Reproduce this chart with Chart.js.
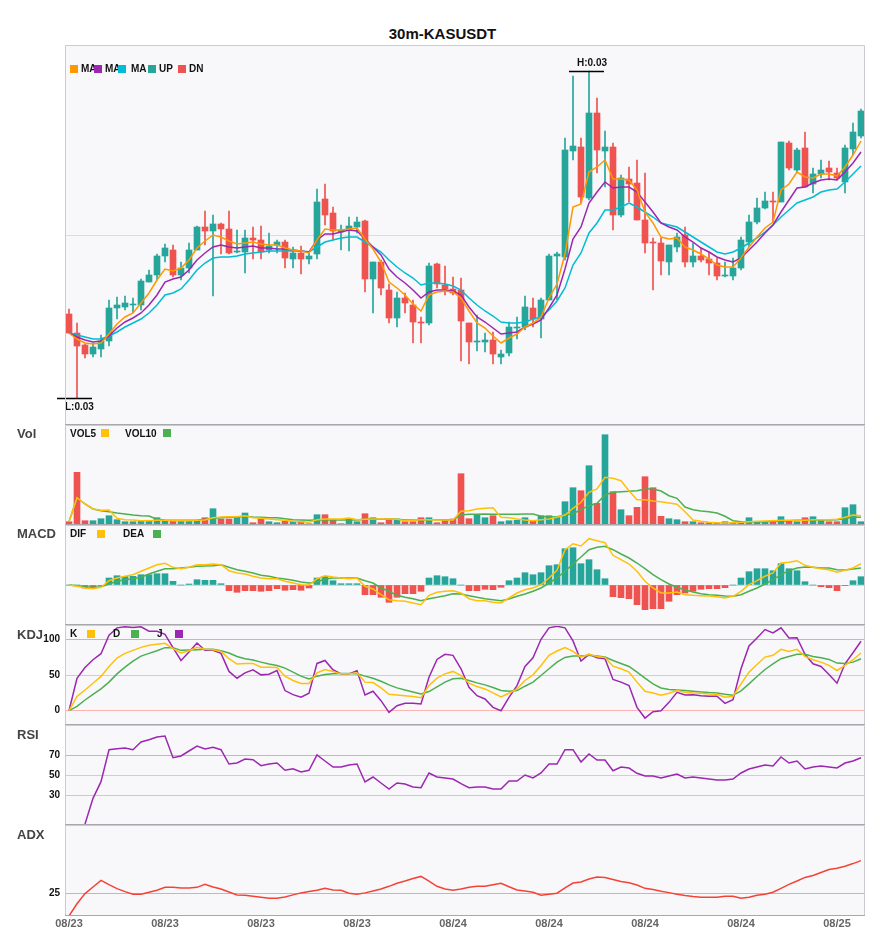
<!DOCTYPE html>
<html>
<head>
<meta charset="utf-8">
<title>30m-KASUSDT</title>
<script src="https://cdn.jsdelivr.net/npm/chart.js@4.4.1/dist/chart.umd.min.js"></script>
<style>
  body { margin: 0; background: #fff; width: 885px; height: 950px; position: relative; overflow: hidden;
         font-family: "Liberation Sans", Arial, sans-serif; }
  #title { position: absolute; left: 0; top: 26px; width: 885px; text-align: center;
           font-weight: bold; font-size: 15px; line-height: 16px; color: #111; }
  canvas { position: absolute; left: 0; }
</style>
</head>
<body>
<div id="title">30m-KASUSDT</div>
<canvas id="cMain" width="885" height="380" style="top:45px"></canvas>
<canvas id="cVol" width="885" height="100" style="top:425px"></canvas>
<canvas id="cMacd" width="885" height="100" style="top:525px"></canvas>
<canvas id="cKdj" width="885" height="100" style="top:625px"></canvas>
<canvas id="cRsi" width="885" height="100" style="top:725px"></canvas>
<canvas id="cAdx" width="885" height="116" style="top:825px"></canvas>
<script>
// prices in units of 0.00001 USDT, one entry per 30m bar (100 bars)
const opens = [
  2986, 2967, 2955, 2946, 2951, 2959, 2992, 2993, 2995, 2995,
  3018, 3025, 3044, 3050, 3025, 3032, 3050, 3073, 3069, 3076,
  3071, 3048, 3048, 3062, 3060, 3050, 3055, 3058, 3041, 3047,
  3041, 3046, 3101, 3087, 3068, 3070, 3073, 3079, 3021, 3038,
  3010, 2982, 3002, 2995, 2978, 2977, 3036, 3015, 3011, 3010,
  2977, 2958, 2958, 2960, 2943, 2947, 2972, 2973, 2992, 2981,
  3000, 3044, 3043, 3149, 3153, 3102, 3187, 3149, 3153, 3085,
  3121, 3117, 3080, 3058, 3057, 3038, 3053, 3065, 3038, 3044,
  3041, 3037, 3024, 3024, 3032, 3058, 3078, 3092, 3099, 3098,
  3157, 3130, 3152, 3116, 3126, 3132, 3127, 3118, 3151, 3164
];
const highs = [
  2991, 2977, 2956, 2957, 2965, 3000, 3003, 3004, 3002, 3021,
  3030, 3046, 3056, 3055, 3038, 3057, 3074, 3089, 3085, 3077,
  3089, 3070, 3070, 3073, 3074, 3067, 3060, 3060, 3053, 3054,
  3048, 3111, 3116, 3093, 3075, 3083, 3083, 3080, 3038, 3040,
  3016, 3008, 3007, 3000, 2983, 3037, 3037, 3034, 3023, 3022,
  2977, 2985, 2967, 2968, 2950, 2978, 2983, 3004, 3002, 3002,
  3046, 3048, 3162, 3224, 3162, 3229, 3202, 3169, 3157, 3125,
  3133, 3140, 3127, 3062, 3062, 3055, 3067, 3073, 3057, 3052,
  3048, 3042, 3038, 3042, 3063, 3085, 3102, 3108, 3108, 3158,
  3159, 3152, 3168, 3132, 3140, 3139, 3132, 3155, 3177, 3191
];
const lows = [
  2967, 2902, 2942, 2943, 2943, 2954, 2981, 2990, 2987, 2990,
  3018, 3020, 3038, 3023, 3020, 3027, 3050, 3055, 3004, 3046,
  3046, 3047, 3027, 3041, 3041, 3047, 3047, 3032, 3032, 3026,
  3036, 3041, 3075, 3060, 3050, 3049, 3067, 3008, 2987, 3005,
  2977, 2973, 2987, 2957, 2957, 2975, 3012, 3005, 3005, 2939,
  2936, 2949, 2948, 2936, 2936, 2944, 2961, 2970, 2973, 2962,
  3000, 3000, 3040, 3140, 3097, 3100, 3127, 3113, 3070, 3083,
  3098, 3080, 3047, 3010, 3025, 3025, 3048, 3033, 3033, 3038,
  3025, 3020, 3023, 3020, 3030, 3053, 3076, 3091, 3078, 3098,
  3130, 3128, 3113, 3107, 3122, 3120, 3120, 3107, 3145, 3162
];
const closes = [
  2967, 2954, 2946, 2953, 2959, 2992, 2995, 2997, 2996, 3019,
  3025, 3044, 3052, 3025, 3032, 3050, 3073, 3069, 3076, 3071,
  3047, 3049, 3062, 3060, 3048, 3054, 3058, 3042, 3047, 3041,
  3044, 3098, 3085, 3069, 3070, 3074, 3078, 3021, 3038, 3012,
  2982, 3002, 2997, 2978, 2977, 3034, 3016, 3011, 3007, 2979,
  2958, 2959, 2960, 2946, 2946, 2973, 2973, 2993, 2981, 3000,
  3044, 3046, 3150, 3154, 3103, 3187, 3150, 3153, 3085, 3122,
  3116, 3080, 3057, 3057, 3039, 3055, 3063, 3038, 3044, 3040,
  3037, 3024, 3025, 3032, 3060, 3078, 3092, 3099, 3098, 3158,
  3132, 3150, 3113, 3126, 3130, 3128, 3122, 3152, 3168, 3189
];
const ma5 = [
  2967, 2961, 2957, 2956, 2957, 2966, 2976, 2983, 2987, 2997,
  3007, 3020, 3031, 3029, 3032, 3040, 3052, 3059, 3065, 3063,
  3059, 3056, 3057, 3058, 3056, 3055, 3055, 3052, 3050, 3049,
  3047, 3060, 3071, 3070, 3070, 3071, 3072, 3061, 3051, 3038,
  3018, 3012, 3005, 2996, 2989, 3005, 3008, 3009, 3008, 3002,
  2989, 2977, 2972, 2964, 2957, 2962, 2966, 2973, 2977, 2983,
  3002, 3016, 3046, 3093, 3096, 3128, 3133, 3140, 3121, 3121,
  3120, 3110, 3088, 3077, 3063, 3061, 3062, 3053, 3050, 3046,
  3041, 3035, 3033, 3033, 3042, 3053, 3063, 3072, 3078, 3110,
  3116, 3128, 3123, 3122, 3126, 3126, 3124, 3133, 3145, 3159
];
const ma10 = [
  2967, 2963, 2960, 2958, 2959, 2964, 2972, 2978, 2982, 2987,
  2995, 3005, 3018, 3021, 3023, 3030, 3040, 3047, 3053, 3055,
  3053, 3052, 3053, 3054, 3052, 3052, 3051, 3051, 3050, 3049,
  3048, 3060, 3066, 3066, 3068, 3070, 3069, 3061, 3053, 3045,
  3031, 3023, 3017, 3010, 3002, 3008, 3010, 3010, 3009, 3005,
  2993, 2983, 2978, 2972, 2966, 2967, 2968, 2973, 2976, 2980,
  2992, 3005, 3031, 3061, 3073, 3097, 3108, 3118, 3112, 3113,
  3113, 3108, 3098, 3088, 3077, 3073, 3070, 3063, 3058, 3052,
  3048, 3043, 3040, 3038, 3042, 3050, 3058, 3067, 3075, 3088,
  3100, 3112, 3113, 3117, 3120, 3121, 3120, 3128, 3137, 3148
];
const ma20 = [
  2967, 2965, 2963, 2961, 2961, 2964, 2968, 2973, 2977, 2981,
  2987, 2995, 3005, 3007, 3011, 3020, 3030, 3037, 3042, 3043,
  3043, 3044, 3046, 3047, 3048, 3049, 3049, 3049, 3049, 3049,
  3048, 3053, 3058, 3060, 3062, 3063, 3063, 3058, 3053, 3048,
  3040, 3033, 3027, 3022, 3015, 3017, 3017, 3016, 3014, 3010,
  3002, 2995, 2989, 2984, 2978, 2977, 2977, 2978, 2981, 2983,
  2990, 2999, 3012, 3035, 3047, 3067, 3077, 3090, 3090, 3093,
  3097, 3093, 3088, 3083, 3077, 3075, 3073, 3068, 3063, 3058,
  3053, 3048, 3046, 3048, 3052, 3057, 3062, 3068, 3075, 3083,
  3090, 3097, 3100, 3103, 3108, 3110, 3111, 3118, 3126, 3134
];
// volume, thousands KAS
const volume = [
  3.3, 52.7, 4.3, 4.3, 6.3, 9.3, 5.3, 3.3, 3.3, 4.3,
  4.3, 7.3, 3.7, 3.7, 3.7, 4.3, 4.7, 7.3, 16.3, 6,
  6, 7.7, 12, 2.3, 6.3, 3.3, 2.3, 3.7, 3.7, 3.7,
  1.3, 10.3, 10.3, 5.3, 1.3, 6.7, 3.3, 11.3, 7.3, 2.3,
  6, 6, 3.3, 3.3, 7.3, 7.3, 2.3, 4.7, 6, 51.3,
  6.3, 10, 7.3, 9.3, 3.3, 4.3, 4.7, 7.3, 3.7, 9.3,
  9.3, 8.3, 23.3, 37.3, 34.3, 59.3, 21.7, 90.3, 33.3, 15.3,
  9.3, 17.7, 48.3, 37.3, 8.7, 6.3, 5.3, 3.3, 3.3, 2.3,
  2.3, 1.7, 3.3, 2.3, 2.3, 7.3, 3.3, 3.3, 2.7, 8.3,
  4.3, 3.3, 7.3, 8.3, 5.3, 3.3, 3.3, 17.3, 20.3, 3.3
];
const vol5 = [
  3.3, 27.3, 21, 16, 14.7, 15, 6.7, 5.3, 5, 4.3,
  4.3, 4.7, 4.7, 4.3, 4.3, 4.3, 4.7, 5, 7.3, 8,
  8.3, 8.3, 9.3, 7.3, 6.7, 6, 5.3, 4.7, 3.7, 3.3,
  2.7, 5.3, 6, 6, 6, 7, 5.3, 5.7, 6, 6,
  6, 5.7, 4.3, 4.7, 5.3, 5.3, 5, 5, 5, 13.7,
  14.3, 16, 16.7, 17.3, 7.7, 7.3, 6, 5, 4.3, 5.3,
  6, 7.7, 10, 16.7, 22.7, 32.7, 36, 47.7, 46.7, 44.3,
  34.3, 25.3, 25.3, 24, 23.3, 22, 20.7, 13.3, 5, 3.7,
  2.7, 2.3, 2, 2.3, 2.7, 3.3, 3.7, 4, 4.3, 4.7,
  4.7, 4.7, 4.7, 5.3, 5.3, 5.3, 5.7, 7.7, 10, 9.3
];
const vol10 = [
  3.3, 27.3, 21, 16, 14.3, 13.3, 12, 11, 10, 9.3,
  9, 5.7, 5, 4.7, 4.7, 4.7, 5, 5.7, 6.7, 7.3,
  7.7, 7.7, 8.7, 8, 7.7, 7.3, 7.3, 6.3, 5.3, 5,
  4.7, 5, 5, 5, 5, 5, 5, 5.7, 5.7, 5.7,
  6, 5.7, 5, 5, 5, 5.3, 5.3, 5.3, 5.3, 10,
  10.7, 10.7, 11, 10.7, 10.7, 10.7, 10.7, 11, 11, 8.7,
  8, 8.3, 10, 11.3, 15.3, 19.3, 21.7, 30, 32.7, 33.3,
  33.7, 34.3, 36, 36, 34, 29.3, 26.7, 18, 15.3, 14,
  13.3, 12, 8.7, 4.3, 3.3, 3.3, 3.3, 3.3, 3.7, 4,
  4.3, 4.7, 4.7, 5, 5, 5, 5.3, 6.3, 8, 7.7
];
// MACD in units of 0.000001
const dif = [
  0, -1.3, -3, -3.7, -2.3, 4.3, 7, 8.7, 10.3, 13.7,
  17, 20.3, 21.7, 17.7, 16.3, 17.7, 20.3, 20.3, 21, 20.3,
  14.3, 12, 11, 8.7, 7, 6.3, 6.3, 3.7, 2, 0.3,
  0, 6.3, 9.3, 8, 7, 6.3, 7, -1.3, -4, -9.7,
  -14.7, -15.7, -16.3, -18, -19.7, -10.3, -7.3, -6.3, -5.7, -8,
  -13.7, -15.7, -15.7, -17.3, -18, -13, -8, -4.7, -3, 0.3,
  7, 14.7, 35.3, 41.3, 39, 46.3, 44.3, 42.3, 29.7, 25.3,
  21, 13.7, 3.7, -3, -8, -8, -7, -9.7, -10.3, -10.7,
  -11, -11.7, -13, -11.3, -6.3, 0.3, 4.3, 8.7, 12, 22,
  22.7, 24.3, 19.7, 17.7, 16.3, 15.3, 12.7, 14.7, 17, 21.3
];
const dea = [
  0, -0.7, -1.7, -2.3, -1.7, 1, 3.7, 5.3, 6.3, 7.7,
  11, 13.7, 16.3, 16.3, 17, 17.7, 18.7, 19, 19.3, 20.3,
  17.7, 15.3, 13.7, 12, 9.7, 8.7, 7, 6, 4.7, 3,
  2, 3, 6, 7, 7, 7, 7, 4.3, 2, -3,
  -6.3, -10.3, -12.3, -13.7, -15.7, -13.7, -12.3, -10.7, -8.7, -9,
  -10.7, -12.3, -13.7, -14.7, -15.7, -14, -11.3, -9, -6.3, -3,
  2, 7, 13.7, 21, 28, 35.3, 37.7, 38.7, 35.3, 31,
  27, 22, 16.3, 10.3, 5.3, 1, -2.3, -5, -7, -8.7,
  -9.7, -10.3, -11, -11.3, -9.7, -6.3, -3, 1, 5.3, 10.3,
  14.3, 17, 18, 17.7, 17, 17, 15.3, 15, 16, 17
];
const macdHist = [
  0, 0, -3, -2, -0.7, 7, 9.3, 8.7, 8.7, 10.3,
  10.3, 11.3, 11.3, 3.7, 0, 1, 5.3, 4.7, 4.7, 1.3,
  -5.7, -7.3, -5.7, -5.7, -6.3, -5.7, -3.7, -5.3, -4.7, -5.3,
  -3, 7, 8.7, 4.3, 1.3, 1.3, 1.3, -9.7, -9.7, -12.3,
  -17.3, -12.3, -8.7, -8.7, -6.3, 7, 9.3, 8.3, 6.3, 0,
  -5.7, -5.7, -4.3, -4.7, -2.3, 4.3, 7, 12.3, 10.3, 12.3,
  19.3, 20.3, 36.3, 37.3, 21.3, 25.3, 15.3, 6.3, -11.7, -12.7,
  -13.7, -19.7, -24.7, -23.7, -23.7, -16.3, -9.7, -8, -6.3, -4.3,
  -3.7, -3.7, -2.7, 0, 7, 13.3, 16.3, 16.3, 14.3, 21.3,
  16.3, 14.3, 3.3, 0, -1.7, -2.7, -5.7, -0.7, 4.3, 8.3
];
const kLine = [
  0, 20, 29, 38.5, 48, 62, 73.7, 80.3, 84.5, 88.7,
  91.5, 93, 94.4, 86.9, 80.8, 84, 88.7, 86, 85.4, 83,
  72.8, 65.3, 66.2, 66.2, 61, 61, 60.6, 48.4, 42.3, 38,
  38, 53, 57.7, 55, 51.6, 51.6, 53, 40, 39.4, 32,
  23, 22, 21, 20, 18.3, 35.2, 45.5, 51.6, 55, 49.3,
  38.5, 33.8, 30.5, 24.9, 19.2, 24.4, 30.5, 42.3, 50.2, 63.4,
  77.5, 83.6, 88.3, 83, 75.1, 78.9, 76, 74.6, 62.4, 58.7,
  54, 40, 27.2, 24.9, 21.6, 24.4, 28.2, 25.8, 24.9, 24.4,
  23.5, 23, 18.8, 20.2, 37.6, 54, 64.8, 75.1, 77.5, 85.9,
  83.1, 85.9, 76, 71.4, 68, 63.4, 56.3, 63.4, 71.4, 80.8
];
const dLine = [
  0, 6.1, 15, 23, 30.5, 40, 51.6, 61, 69.5, 76.5,
  80.3, 84, 88.3, 88.3, 84.5, 85, 85.4, 86, 86, 84,
  80.8, 76, 72.8, 70.9, 68, 65.3, 63.4, 59.6, 54, 48.4,
  44.6, 48.4, 50.7, 51.6, 52.1, 52.1, 51.6, 48.4, 45.5, 41.3,
  36.2, 32, 29.1, 26.3, 23.5, 26.8, 33.3, 40, 44.6, 45.5,
  42.3, 39, 36.2, 32.4, 28.2, 27.2, 28.2, 34.3, 40, 49.3,
  58.7, 68, 74.6, 76.5, 76.5, 77.5, 76.5, 75.1, 70.4, 66.2,
  62, 54, 45.5, 37.6, 31.9, 29.6, 29.1, 28.2, 27.2, 26.3,
  25.4, 24.9, 23, 21.6, 27.7, 37.6, 47.9, 57.7, 65.7, 72.8,
  76, 78.9, 78.9, 76, 74.2, 71.8, 66.7, 66.2, 68, 72.8
];
const jLine = [
  0, 45.5, 60.6, 71.4, 79.8, 105.6, 116, 117.4, 116.4, 117.4,
  111.3, 111.3, 107, 88.3, 70.4, 82.2, 94.8, 84.5, 84.5, 80.3,
  55, 45.5, 53, 57.3, 50.2, 51.2, 56.3, 28.2, 22.5, 18.8,
  24.4, 66.2, 70.4, 57.3, 51.6, 51.6, 55.9, 22, 27.2, 14.1,
  -2.3, 7, 10.3, 10.3, 9.4, 46.9, 71.8, 78.9, 77.5, 58.7,
  32.9, 21.1, 16.4, 4.7, 0, 18.8, 35.2, 62, 74.2, 100,
  116, 118.3, 116, 97.7, 69.5, 78.9, 74.2, 72.8, 43.7, 40,
  35.2, 4.7, -10.3, -1.4, 0, 11.7, 25.8, 22, 22.5, 21.1,
  20.2, 20.2, 10.3, 15.5, 58.7, 90.6, 101.9, 113.6, 108.9, 116,
  101.9, 102.3, 78.9, 65.7, 62, 50.7, 38.5, 65.7, 81.2, 97.2
];
const rsi = [
  null, null, 1, 26.7, 43.3, 75.3, 76.3, 77, 75.3, 83,
  85.3, 88, 89, 67.3, 69, 74, 79, 76, 77.7, 75.3,
  61, 62, 66, 65.3, 59.3, 61, 62, 54.7, 56.3, 53,
  54.7, 70, 64, 58, 58, 60, 61, 43, 48, 42,
  36, 42, 41, 38, 37.3, 52, 48, 47, 46, 41.3,
  37.3, 38, 38, 36, 36, 44, 44, 50, 47, 52,
  61, 61, 75.3, 75.3, 63, 71, 65, 65, 54.3, 58,
  57, 51.7, 49, 49, 47, 49, 51, 47, 48, 47,
  46, 45, 45, 46, 52, 56, 58, 60, 59, 68,
  62, 64, 56, 58, 59, 58, 57, 62, 64, 67.3
];
const adx = [
  0, 13.4, 24.6, 31.9, 39.1, 34.4, 30.1, 26.8, 23.9, 23.9,
  26.1, 28.3, 31.5, 31.5, 30.8, 30.8, 31.5, 34.8, 31.9, 29.7,
  26.4, 23.2, 22.8, 21.7, 20.7, 19.6, 19.6, 21, 23.2, 25.4,
  26.8, 28.3, 30.4, 28.6, 28.3, 25, 23.9, 25.4, 27.5, 29.7,
  32.6, 35.9, 38.4, 41.3, 43.5, 38.4, 32.6, 29.7, 28.3, 29.7,
  31.5, 32.6, 32.6, 34.4, 35.9, 32.2, 28.6, 27.5, 26.1, 22.8,
  23.9, 25, 30.8, 36.2, 37.3, 40.6, 42.8, 42.4, 40.2, 38,
  36.6, 34.1, 30.4, 29, 27.2, 25.7, 23.9, 22.5, 21.4, 20.7,
  20.7, 20.7, 21.7, 21.7, 19.6, 20.7, 22.8, 23.9, 26.1, 30.4,
  34.8, 38.4, 42.4, 44.6, 47.8, 51.1, 52.5, 54.7, 57.6, 60.9
];
// one date label every 12 bars (6 hours)
const tickLabels = ['08/23', '08/23', '08/23', '08/23', '08/24', '08/24', '08/24', '08/24', '08/25'];
const TICK_EVERY = 12;

const UP = '#26a69a', DN = '#ef5350';
const YELLOW = '#ffc107', GREEN = '#4caf50', PURPLE = '#9c27b0';
const FONT = '"Liberation Sans", Arial, sans-serif';

Chart.defaults.font.family = FONT;
Chart.defaults.animation = false;
Chart.defaults.events = [];
Chart.defaults.plugins.legend.display = false;
Chart.defaults.plugins.tooltip.enabled = false;

const labels = closes.map((c, i) => i);
const candleColors = closes.map((c, i) => (c >= opens[i] ? UP : DN));

// background, borders, panel name and the little legends
const panelFrame = {
  id: 'panelFrame',
  beforeDraw(chart) {
    const { ctx, chartArea: a } = chart;
    ctx.save();
    ctx.fillStyle = '#f8f8fb';
    ctx.fillRect(a.left, a.top, a.right - a.left, a.bottom - a.top);
    ctx.restore();
  },
  afterDraw(chart, args, opts) {
    const { ctx, chartArea: a } = chart;
    ctx.save();
    ctx.lineWidth = 1;
    ctx.strokeStyle = '#cbcbd2';
    ctx.beginPath();
    ctx.moveTo(a.left + 0.5, a.bottom);
    ctx.lineTo(a.left + 0.5, a.top + 0.5);
    ctx.lineTo(a.right - 0.5, a.top + 0.5);
    ctx.lineTo(a.right - 0.5, a.bottom);
    ctx.stroke();
    ctx.strokeStyle = '#a8a8ac';
    ctx.beginPath();
    ctx.moveTo(a.left, a.bottom - 0.5);
    ctx.lineTo(a.right, a.bottom - 0.5);
    ctx.stroke();

    ctx.textBaseline = 'middle';
    if (opts.name) {
      ctx.fillStyle = '#444';
      ctx.font = 'bold 13px ' + FONT;
      ctx.fillText(opts.name, 17, opts.nameY);
    }
    ctx.font = 'bold 10px ' + FONT;
    (opts.items || []).forEach(it => {
      if (it.box) {
        ctx.fillStyle = it.color;
        ctx.fillRect(it.x, it.y, it.size, it.size);
      } else {
        ctx.fillStyle = '#111';
        ctx.fillText(it.text, it.x, it.y);
      }
    });
    ctx.restore();
  }
};

// H / L marks at the extreme wick of the window
const hiLoMarks = {
  id: 'hiLoMarks',
  afterDatasetsDraw(chart) {
    const { ctx, scales: { x, y } } = chart;
    const hiIdx = highs.indexOf(Math.max(...highs));
    const loIdx = lows.indexOf(Math.min(...lows));
    ctx.save();
    ctx.strokeStyle = '#000';
    ctx.fillStyle = '#111';
    ctx.lineWidth = 1.5;
    ctx.font = 'bold 10px ' + FONT;
    [[hiIdx, highs[hiIdx], 'H', 'bottom', -3], [loIdx, lows[loIdx], 'L', 'top', 4]].forEach(([i, v, tag, base, dy]) => {
      const px = x.getPixelForValue(i);
      const py = Math.round(y.getPixelForValue(v)) + 0.5;
      ctx.beginPath();
      ctx.moveTo(px - 20, py);
      ctx.lineTo(px + 15, py);
      ctx.stroke();
      ctx.textBaseline = base;
      ctx.fillText(tag + ':' + (v / 100000).toFixed(2), px - 12, py + dy);
    });
    ctx.restore();
  }
};

function xAxis(show) {
  const axis = {
    type: 'category',
    offset: true,
    display: show,
    grid: { display: false, drawTicks: false },
    border: { display: false },
    ticks: {
      autoSkip: false, maxRotation: 0, padding: 1, color: '#666',
      font: { size: 11, weight: 'bold' },
      callback: (v, i) => (i % TICK_EVERY === 0 ? tickLabels[i / TICK_EVERY] : '')
    }
  };
  if (show) {
    axis.afterFit = s => { s.height = 25; s.paddingLeft = 0; s.paddingRight = 0; };
  }
  return axis;
}

function yAxis(min, max, lines, showLabels) {
  return {
    min, max,
    afterFit: s => { s.width = 65; s.paddingTop = 0; s.paddingBottom = 0; },
    afterBuildTicks: s => { s.ticks = lines.map(l => ({ value: l.v })); },
    grid: {
      drawTicks: false,
      color: c => { const l = lines.find(q => q.v === c.tick.value); return l ? l.c : 'transparent'; }
    },
    border: { display: false },
    ticks: { display: showLabels, padding: 5, color: '#111', font: { size: 10, weight: 'bold' } }
  };
}

const line = (data, color) => ({
  type: 'line', data, borderColor: color, borderWidth: 1.5,
  pointRadius: 0, fill: false, tension: 0, order: 0
});

function makeChart(id, datasets, y, frame, showX, extra) {
  return new Chart(document.getElementById(id), {
    type: 'bar',
    data: { labels, datasets },
    options: {
      responsive: false,
      layout: { padding: { left: 0, right: 20, top: 0, bottom: 0 } },
      scales: { x: xAxis(showX), y },
      plugins: { panelFrame: frame }
    },
    plugins: [panelFrame].concat(extra || [])
  });
}

// price
makeChart('cMain', [
  { data: lows.map((l, i) => [l, highs[i]]), backgroundColor: candleColors, barThickness: 1, grouped: false, order: 2 },
  { data: opens.map((o, i) => [o, closes[i]]), backgroundColor: candleColors, barThickness: 6, minBarLength: 1, grouped: false, order: 1 },
  line(ma5, '#ff9800'),
  line(ma10, PURPLE),
  line(ma20, '#00bcd4')
], yAxis(2875, 3255, [{ v: 3065, c: '#dcdcdf' }], false), {
  items: [
    { box: true, x: 70, y: 20, size: 8, color: '#ff9800' }, { text: 'MA', x: 81, y: 24 },
    { box: true, x: 94, y: 20, size: 8, color: PURPLE }, { text: 'MA', x: 105, y: 24 },
    { box: true, x: 118, y: 20, size: 8, color: '#00bcd4' }, { text: 'MA', x: 131, y: 24 },
    { box: true, x: 148, y: 20, size: 8, color: UP }, { text: 'UP', x: 159, y: 24 },
    { box: true, x: 178, y: 20, size: 8, color: DN }, { text: 'DN', x: 189, y: 24 }
  ]
}, false, [hiLoMarks]);

// volume
makeChart('cVol', [
  { data: volume, backgroundColor: candleColors, barThickness: 6, order: 1 },
  line(vol5, YELLOW),
  line(vol10, GREEN)
], yAxis(0, 100, [], false), {
  name: 'Vol', nameY: 9.5,
  items: [
    { text: 'VOL5', x: 70, y: 9.5 }, { box: true, x: 101, y: 4, size: 8, color: YELLOW },
    { text: 'VOL10', x: 125, y: 9.5 }, { box: true, x: 163, y: 4, size: 8, color: GREEN }
  ]
}, false);

// MACD
makeChart('cMacd', [
  { data: macdHist, backgroundColor: macdHist.map(v => (v >= 0 ? UP : DN)), barThickness: 6, order: 1 },
  line(dif, YELLOW),
  line(dea, GREEN)
], yAxis(-40, 60, [{ v: 0, c: '#d6d6d9' }], false), {
  name: 'MACD', nameY: 9.5,
  items: [
    { text: 'DIF', x: 70, y: 9.5 }, { box: true, x: 97, y: 5, size: 8, color: YELLOW },
    { text: 'DEA', x: 123, y: 9.5 }, { box: true, x: 153, y: 5, size: 8, color: GREEN }
  ]
}, false);

// KDJ
makeChart('cKdj', [
  line(kLine, YELLOW),
  line(dLine, GREEN),
  line(jLine, PURPLE)
], yAxis(-20, 120, [{ v: 0, c: '#ffb4b4' }, { v: 50, c: '#cfcfd2' }, { v: 100, c: '#8fd1c9' }], true), {
  name: 'KDJ', nameY: 10,
  items: [
    { text: 'K', x: 70, y: 9.5 }, { box: true, x: 87, y: 5, size: 8, color: YELLOW },
    { text: 'D', x: 113, y: 9.5 }, { box: true, x: 131, y: 5, size: 8, color: GREEN },
    { text: 'J', x: 157, y: 9.5 }, { box: true, x: 175, y: 5, size: 8, color: PURPLE }
  ]
}, false);

// RSI
makeChart('cRsi', [
  line(rsi, PURPLE)
], yAxis(0, 100, [{ v: 30, c: '#ffb4b4' }, { v: 50, c: '#cfcfd2' }, { v: 70, c: '#8fd1c9' }], true), {
  name: 'RSI', nameY: 10
}, false);

// ADX
makeChart('cAdx', [
  line(adx, '#f44336')
], yAxis(0, 100, [{ v: 25, c: '#d9a3ea' }], true), {
  name: 'ADX', nameY: 10
}, true);
</script>
</body>
</html>
